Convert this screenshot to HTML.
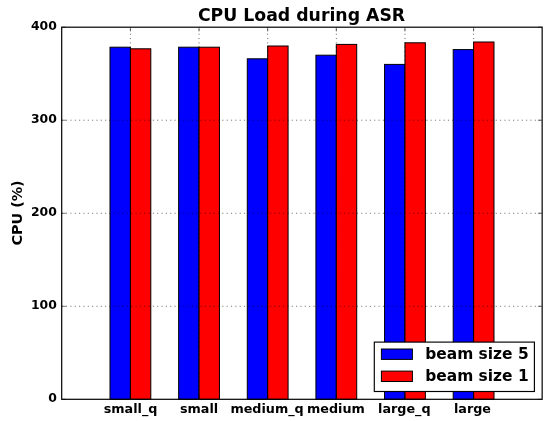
<!DOCTYPE html>
<html><head><meta charset="utf-8"><title>CPU Load during ASR</title>
<style>
html,body{margin:0;padding:0;background:#fff;}
svg{display:block;}
text{font-family:"DejaVu Sans","Liberation Sans",sans-serif;font-weight:bold;fill:#000;}
</style></head><body>
<svg width="550" height="421" viewBox="0 0 550 421">
<rect x="0" y="0" width="550" height="421" fill="#fff"/>
<rect x="110.00" y="47.20" width="20.40" height="352.10" fill="#0000ff" stroke="#000" stroke-width="1"/>
<rect x="130.40" y="48.80" width="20.40" height="350.50" fill="#ff0000" stroke="#000" stroke-width="1"/>
<rect x="178.64" y="47.20" width="20.40" height="352.10" fill="#0000ff" stroke="#000" stroke-width="1"/>
<rect x="199.04" y="47.20" width="20.40" height="352.10" fill="#ff0000" stroke="#000" stroke-width="1"/>
<rect x="247.28" y="58.80" width="20.40" height="340.50" fill="#0000ff" stroke="#000" stroke-width="1"/>
<rect x="267.68" y="46.00" width="20.40" height="353.30" fill="#ff0000" stroke="#000" stroke-width="1"/>
<rect x="315.92" y="55.20" width="20.40" height="344.10" fill="#0000ff" stroke="#000" stroke-width="1"/>
<rect x="336.32" y="44.40" width="20.40" height="354.90" fill="#ff0000" stroke="#000" stroke-width="1"/>
<rect x="384.56" y="64.40" width="20.40" height="334.90" fill="#0000ff" stroke="#000" stroke-width="1"/>
<rect x="404.96" y="42.80" width="20.40" height="356.50" fill="#ff0000" stroke="#000" stroke-width="1"/>
<rect x="453.20" y="49.60" width="20.40" height="349.70" fill="#0000ff" stroke="#000" stroke-width="1"/>
<rect x="473.60" y="42.00" width="20.40" height="357.30" fill="#ff0000" stroke="#000" stroke-width="1"/>
<line x1="61.7" y1="306.27" x2="542.15" y2="306.27" stroke="#000" stroke-width="0.55" stroke-dasharray="1.1 3.24"/>
<line x1="61.7" y1="213.25" x2="542.15" y2="213.25" stroke="#000" stroke-width="0.55" stroke-dasharray="1.1 3.24"/>
<line x1="61.7" y1="120.23" x2="542.15" y2="120.23" stroke="#000" stroke-width="0.55" stroke-dasharray="1.1 3.24"/>
<line x1="130.40" y1="399.3" x2="130.40" y2="27.2" stroke="#000" stroke-width="0.55" stroke-dasharray="1.1 3.24"/>
<line x1="199.04" y1="399.3" x2="199.04" y2="27.2" stroke="#000" stroke-width="0.55" stroke-dasharray="1.1 3.24"/>
<line x1="267.68" y1="399.3" x2="267.68" y2="27.2" stroke="#000" stroke-width="0.55" stroke-dasharray="1.1 3.24"/>
<line x1="336.32" y1="399.3" x2="336.32" y2="27.2" stroke="#000" stroke-width="0.55" stroke-dasharray="1.1 3.24"/>
<line x1="404.96" y1="399.3" x2="404.96" y2="27.2" stroke="#000" stroke-width="0.55" stroke-dasharray="1.1 3.24"/>
<line x1="473.60" y1="399.3" x2="473.60" y2="27.2" stroke="#000" stroke-width="0.55" stroke-dasharray="1.1 3.24"/>
<line x1="61.7" y1="399.30" x2="65.9" y2="399.30" stroke="#000" stroke-width="0.55"/>
<line x1="542.15" y1="399.30" x2="537.9499999999999" y2="399.30" stroke="#000" stroke-width="0.55"/>
<text x="56.85" y="402.00" font-size="12.4" text-anchor="end">0</text>
<line x1="61.7" y1="306.27" x2="65.9" y2="306.27" stroke="#000" stroke-width="0.55"/>
<line x1="542.15" y1="306.27" x2="537.9499999999999" y2="306.27" stroke="#000" stroke-width="0.55"/>
<text x="56.85" y="308.97" font-size="12.4" text-anchor="end">100</text>
<line x1="61.7" y1="213.25" x2="65.9" y2="213.25" stroke="#000" stroke-width="0.55"/>
<line x1="542.15" y1="213.25" x2="537.9499999999999" y2="213.25" stroke="#000" stroke-width="0.55"/>
<text x="56.85" y="215.95" font-size="12.4" text-anchor="end">200</text>
<line x1="61.7" y1="120.23" x2="65.9" y2="120.23" stroke="#000" stroke-width="0.55"/>
<line x1="542.15" y1="120.23" x2="537.9499999999999" y2="120.23" stroke="#000" stroke-width="0.55"/>
<text x="56.85" y="122.93" font-size="12.4" text-anchor="end">300</text>
<line x1="61.7" y1="27.20" x2="65.9" y2="27.20" stroke="#000" stroke-width="0.55"/>
<line x1="542.15" y1="27.20" x2="537.9499999999999" y2="27.20" stroke="#000" stroke-width="0.55"/>
<text x="56.85" y="29.90" font-size="12.4" text-anchor="end">400</text>
<line x1="130.40" y1="399.3" x2="130.40" y2="395.1" stroke="#000" stroke-width="0.55"/>
<line x1="130.40" y1="27.2" x2="130.40" y2="31.4" stroke="#000" stroke-width="0.55"/>
<text x="130.60" y="412.5" font-size="12.75" text-anchor="middle">small_q</text>
<line x1="199.04" y1="399.3" x2="199.04" y2="395.1" stroke="#000" stroke-width="0.55"/>
<line x1="199.04" y1="27.2" x2="199.04" y2="31.4" stroke="#000" stroke-width="0.55"/>
<text x="199.04" y="412.5" font-size="12.75" text-anchor="middle">small</text>
<line x1="267.68" y1="399.3" x2="267.68" y2="395.1" stroke="#000" stroke-width="0.55"/>
<line x1="267.68" y1="27.2" x2="267.68" y2="31.4" stroke="#000" stroke-width="0.55"/>
<text x="267.08" y="412.5" font-size="12.75" text-anchor="middle">medium_q</text>
<line x1="336.32" y1="399.3" x2="336.32" y2="395.1" stroke="#000" stroke-width="0.55"/>
<line x1="336.32" y1="27.2" x2="336.32" y2="31.4" stroke="#000" stroke-width="0.55"/>
<text x="335.92" y="412.5" font-size="12.75" text-anchor="middle">medium</text>
<line x1="404.96" y1="399.3" x2="404.96" y2="395.1" stroke="#000" stroke-width="0.55"/>
<line x1="404.96" y1="27.2" x2="404.96" y2="31.4" stroke="#000" stroke-width="0.55"/>
<text x="404.36" y="412.5" font-size="12.75" text-anchor="middle">large_q</text>
<line x1="473.60" y1="399.3" x2="473.60" y2="395.1" stroke="#000" stroke-width="0.55"/>
<line x1="473.60" y1="27.2" x2="473.60" y2="31.4" stroke="#000" stroke-width="0.55"/>
<text x="472.50" y="412.5" font-size="12.75" text-anchor="middle">large</text>
<rect x="61.7" y="27.2" width="480.45" height="372.1" fill="none" stroke="#000" stroke-width="1.2"/>
<text x="301.53" y="21.4" font-size="17.3" text-anchor="middle">CPU Load during ASR</text>
<text transform="translate(21.6,212.95) rotate(-90)" font-size="14.4" text-anchor="middle" textLength="65.2" lengthAdjust="spacing">CPU (%)</text>
<rect x="374.3" y="342.1" width="160.1" height="49.4" fill="#fff" stroke="#000" stroke-width="1.15"/>
<rect x="381.4" y="349.0" width="31" height="10.4" fill="#0000ff" stroke="#000" stroke-width="1"/>
<rect x="381.4" y="371.1" width="31" height="10.4" fill="#ff0000" stroke="#000" stroke-width="1"/>
<text x="425.2" y="358.9" font-size="15.45">beam size 5</text>
<text x="425.2" y="381.1" font-size="15.45">beam size 1</text>
</svg>
</body></html>
